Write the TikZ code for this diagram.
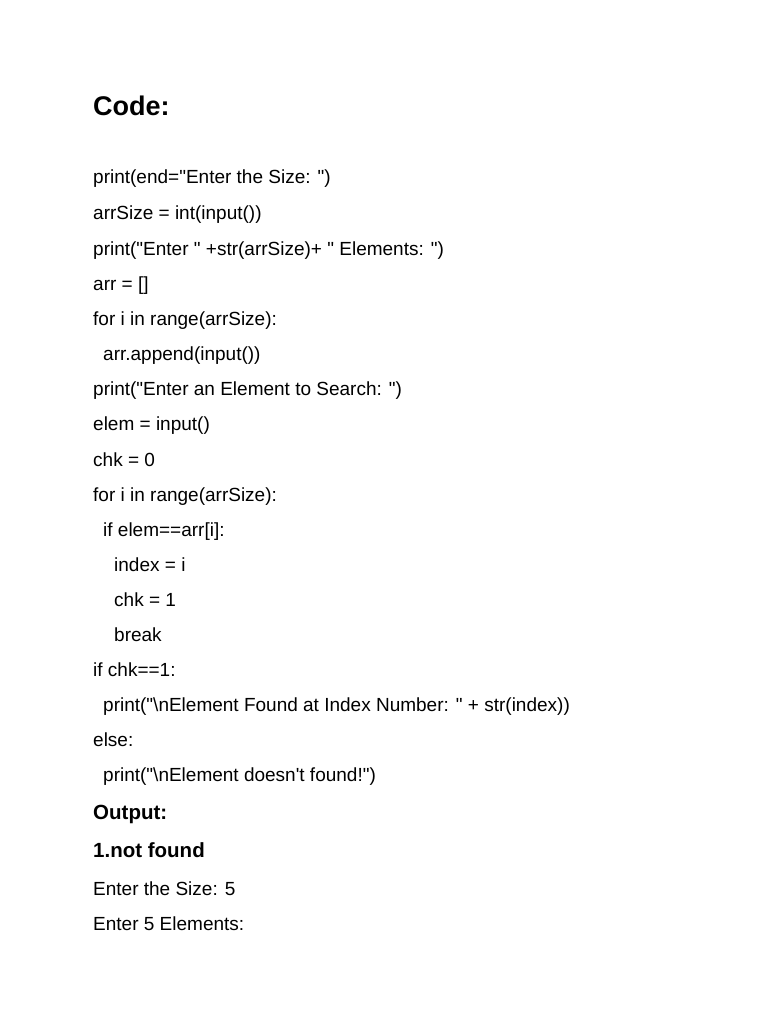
\documentclass[tikz,border=0pt]{standalone}
\usepackage{fontspec}
\setmainfont{Liberation Sans}[Ligatures=TeXOff]
\begin{document}
\begin{tikzpicture}[x=1pt,y=-1pt,
  ln/.style={anchor=base west,inner sep=0pt,font=\fontsize{19}{21}\selectfont},
  hd/.style={anchor=base west,inner sep=0pt,font=\fontsize{20.5}{22}\selectfont\bfseries},
  big/.style={anchor=base west,inner sep=0pt,font=\fontsize{27}{29}\selectfont\bfseries}]
\useasboundingbox[fill=white] (0,0) rectangle (768,1024);
\node[big] (h) at (93,116) {Code:};
\node[ln] (l1) at (93,184) {print(end="Enter the Size: ")};
\node[ln] (l2) at (93,219) {arrSize = int(input())};
\node[ln] (l3) at (93,255) {print("Enter " +str(arrSize)+ " Elements: ")};
\node[ln] (l4) at (93,290) {arr = []};
\node[ln] (l5) at (93,325) {for i in range(arrSize):};
\node[ln] (l6) at (103,360) {arr.append(input())};
\node[ln] (l7) at (93,395) {print("Enter an Element to Search: ")};
\node[ln] (l8) at (93,430) {elem = input()};
\node[ln] (l9) at (93,466) {chk = 0};
\node[ln] (l10) at (93,501) {for i in range(arrSize):};
\node[ln] (l11) at (103,536) {if elem==arr[i]:};
\node[ln] (l12) at (114,571) {index = i};
\node[ln] (l13) at (114,606) {chk = 1};
\node[ln] (l14) at (114,641) {break};
\node[ln] (l15) at (93,676) {if chk==1:};
\node[ln] (l16) at (103,711) {print("\textbackslash nElement Found at Index Number: " + str(index))};
\node[ln] (l17) at (93,746) {else:};
\node[ln] (l18) at (103,781) {print("\textbackslash nElement doesn't found!")};
\node[hd] (o) at (93,819) {Output:};
\node[hd] (o1) at (93,857) {1.not found};
\node[ln] (r1) at (93,895) {Enter the Size: 5};
\node[ln] (r2) at (93,930) {Enter 5 Elements:};
\end{tikzpicture}
\end{document}
